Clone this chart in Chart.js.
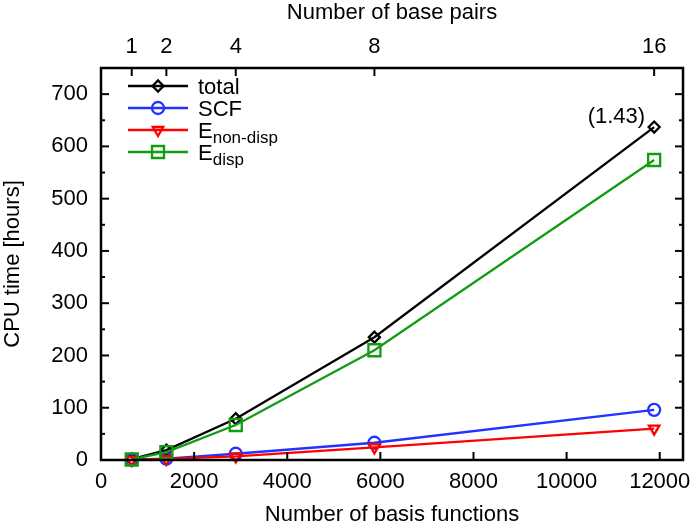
<!DOCTYPE html>
<html>
<head>
<meta charset="utf-8">
<title>CPU time vs basis functions</title>
<script src="https://cdn.jsdelivr.net/npm/chart.js@4.4.0/dist/chart.umd.min.js"></script>
<style>
  html, body { margin: 0; padding: 0; background: #fff; }
  #wrap { width: 700px; height: 528px; }
</style>
</head>
<body>
<div id="wrap"><canvas id="cpuChart" width="700" height="528"></canvas></div>
<script>
// values
const basePairs = [1, 2, 4, 8, 16];
const basisFunctions = [660, 1404, 2894, 5872, 11880];
const totalHours = [1.5, 19, 79, 235, 637];
const scfHours = [0.5, 2.5, 12, 33, 96];
const nonDispHours = [0.3, 2, 7, 24, 60];
const dispHours = [1, 15, 67, 210, 574];
const xTicks = [0, 2000, 4000, 6000, 8000, 10000, 12000];
const yTicks = [0, 100, 200, 300, 400, 500, 600, 700];
const speedupLabel = "(1.43)";

const FONT = "'Liberation Sans', Arial, Helvetica, sans-serif";
const LW = 2.3;

function points(ys) {
  return basisFunctions.map((x, i) => ({ x: x, y: ys[i] }));
}

// one entry per curve, legend text split into main part and subscript
const series = [
  { main: "total", sub: "", data: totalHours, color: "#000000", style: "rectRot", radius: 5.5, rot: 0 },
  { main: "SCF", sub: "", data: scfHours, color: "#2233ff", style: "circle", radius: 6, rot: 0 },
  { main: "E", sub: "non-disp", data: nonDispHours, color: "#ff0000", style: "triangle", radius: 6, rot: 180 },
  { main: "E", sub: "disp", data: dispHours, color: "#139c13", style: "rect", radius: 8.5, rot: 0 },
];

function drawMarker(ctx, s, x, y) {
  if (Chart.helpers && Chart.helpers.drawPoint) {
    ctx.fillStyle = "rgba(0,0,0,0)";
    Chart.helpers.drawPoint(ctx, { pointStyle: s.style, rotation: s.rot, radius: s.radius, borderWidth: LW }, x, y);
    return;
  }
  ctx.beginPath();
  ctx.arc(x, y, s.radius, 0, Math.PI * 2);
  ctx.stroke();
}

// gnuplot-like frame with inward ticks, legend and the speed-up note
const framePlugin = {
  id: "frame",
  afterDraw(chart) {
    const { ctx, chartArea: a, scales } = chart;
    ctx.save();
    ctx.strokeStyle = "#000";
    ctx.lineWidth = 2;
    const seg = (x1, y1, x2, y2) => {
      ctx.beginPath(); ctx.moveTo(x1, y1); ctx.lineTo(x2, y2); ctx.stroke();
    };

    // y ticks, both sides, minor ones halfway
    const yt = scales.y.ticks.map(t => t.value);
    yt.forEach((v, i) => {
      const y = scales.y.getPixelForValue(v);
      seg(a.left, y, a.left + 8, y);
      seg(a.right, y, a.right - 8, y);
      const mid = i < yt.length - 1 ? (v + yt[i + 1]) / 2 : v + (v - yt[i - 1]) / 2;
      const ym = scales.y.getPixelForValue(mid);
      if (ym > a.top + 1) {
        seg(a.left, ym, a.left + 4, ym);
        seg(a.right, ym, a.right - 4, ym);
      }
    });
    scales.x.ticks.forEach(t => {
      const x = scales.x.getPixelForValue(t.value);
      seg(x, a.bottom, x, a.bottom - 8);
    });
    scales.x2.ticks.forEach(t => {
      const x = scales.x2.getPixelForValue(t.value);
      seg(x, a.top, x, a.top + 8);
    });

    ctx.lineWidth = 2.5;
    ctx.strokeRect(a.left, a.top, a.right - a.left, a.bottom - a.top);

    // legend
    series.forEach((s, i) => {
      const y = a.top + 18 + i * 22;
      const x0 = a.left + 27;
      ctx.strokeStyle = s.color;
      ctx.lineWidth = LW;
      seg(x0, y, x0 + 60, y);
      drawMarker(ctx, s, x0 + 30, y);
      ctx.fillStyle = "#000";
      ctx.textAlign = "left";
      ctx.textBaseline = "alphabetic";
      ctx.font = "22px " + FONT;
      ctx.fillText(s.main, x0 + 70, y + 8);
      if (s.sub) {
        const w = ctx.measureText(s.main).width;
        ctx.font = "17px " + FONT;
        ctx.fillText(s.sub, x0 + 70 + w, y + 13);
      }
    });

    // ratio note next to the last total point
    const meta = chart.getDatasetMeta(0);
    const last = meta.data[meta.data.length - 1];
    ctx.fillStyle = "#000";
    ctx.font = "22px " + FONT;
    ctx.textAlign = "right";
    ctx.textBaseline = "middle";
    ctx.fillText(speedupLabel, last.x - 9, last.y - 10);
    ctx.restore();
  },
};

const tickFont = { family: FONT, size: 22 };

const cpuChart = new Chart(document.getElementById("cpuChart"), {
  type: "line",
  data: {
    datasets: series.map((s, i) => ({
      label: s.main + s.sub,
      data: points(s.data),
      borderColor: s.color,
      borderWidth: LW,
      pointStyle: s.style,
      pointRotation: s.rot,
      pointRadius: s.radius,
      pointBorderWidth: LW,
      pointBorderColor: s.color,
      pointBackgroundColor: "rgba(0,0,0,0)",
      tension: 0,
      clip: false,
      order: series.length - i,
    })),
  },
  options: {
    responsive: false,
    animation: false,
    layout: { padding: { left: 0, right: 11, top: 0, bottom: 0 } },
    plugins: { legend: { display: false }, tooltip: { enabled: false } },
    scales: {
      x: {
        type: "linear",
        position: "bottom",
        min: 0,
        max: 12500,
        afterBuildTicks: s => { s.ticks = xTicks.map(v => ({ value: v })); },
        afterFit: s => { s.height = 68; },
        grid: { display: false, drawTicks: false },
        border: { display: false },
        ticks: { color: "#000", font: tickFont, padding: 9, maxRotation: 0, autoSkip: false, callback: v => String(v) },
        title: { display: true, text: "Number of basis functions", color: "#000", font: tickFont, padding: { top: 0, bottom: 0 } },
      },
      x2: {
        type: "linear",
        position: "top",
        min: 0,
        max: 12500,
        afterBuildTicks: s => { s.ticks = basisFunctions.map(v => ({ value: v })); },
        afterFit: s => { s.height = 68; },
        grid: { display: false, drawTicks: false },
        border: { display: false },
        ticks: {
          color: "#000", font: tickFont, padding: 8, maxRotation: 0, autoSkip: false,
          callback: v => basePairs[basisFunctions.indexOf(v)],
        },
        title: { display: true, text: "Number of base pairs", color: "#000", font: tickFont, padding: { top: 0, bottom: 0 } },
      },
      y: {
        type: "linear",
        min: 0,
        max: 750,
        afterBuildTicks: s => { s.ticks = yTicks.map(v => ({ value: v })); },
        afterFit: s => { s.width = 101; },
        grid: { display: false, drawTicks: false },
        border: { display: false },
        ticks: { color: "#000", font: tickFont, padding: 13 },
        title: { display: true, text: "CPU time [hours]", color: "#000", font: tickFont, padding: { top: 0, bottom: 0 } },
      },
    },
  },
  plugins: [framePlugin],
});
</script>
</body>
</html>
